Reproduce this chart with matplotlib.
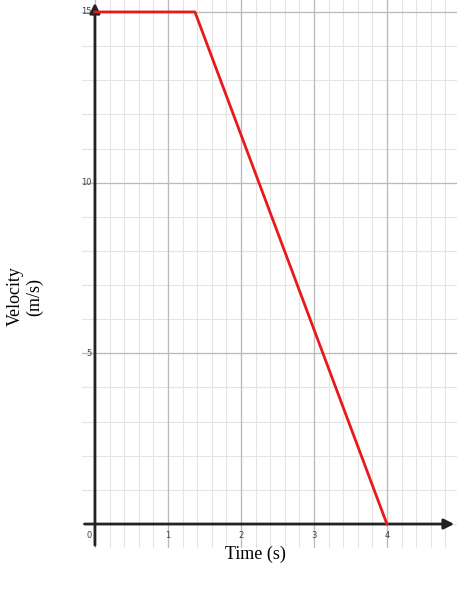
import numpy as np
import matplotlib.pyplot as plt

times = [0, 1.37, 4]
velocities = [15, 15, 0]
x_ticks = [0, 1, 2, 3, 4]
y_ticks = [5, 10, 15]

fig = plt.figure(figsize=(4.57, 5.93), dpi=100)
ax = fig.add_axes([0.179, 0.076, 0.821, 0.924])
ax.set_xlim(-0.18, 4.96)
ax.set_ylim(-0.7, 15.35)

for x in np.arange(0, 5.0, 0.2):
    ax.axvline(x, color="#e4e4e4", lw=0.8, zorder=0)
for y in range(0, 16):
    ax.axhline(y, color="#e4e4e4", lw=0.8, zorder=0)
for x in x_ticks:
    ax.axvline(x, color="#bbbbbb", lw=0.9, zorder=0)
for y in y_ticks:
    ax.axhline(y, color="#bbbbbb", lw=0.9, zorder=0)

# axes with arrows
ax.annotate("", xy=(4.96, 0), xytext=(-0.18, 0),
            arrowprops=dict(arrowstyle="-|>", color="#222222", lw=2, mutation_scale=15))
ax.annotate("", xy=(0, 15.35), xytext=(0, -0.7),
            arrowprops=dict(arrowstyle="-|>", color="#222222", lw=2, mutation_scale=15))

ax.plot(times, velocities, color="#e8191c", lw=2, zorder=3)

for x in x_ticks:
    ax.text(x - 0.08 if x == 0 else x, -0.2, str(x), ha="center", va="top",
            fontsize=6, color="#444444")
for y in y_ticks:
    ax.text(-0.05, y, str(y), ha="right", va="center", fontsize=6, color="#444444")

ax.set_xticks([])
ax.set_yticks([])
for s in ax.spines.values():
    s.set_visible(False)

fig.text(0.56, 0.066, "Time (s)", ha="center", va="center",
         fontsize=13, family="Liberation Serif")
fig.text(0.055, 0.5, "Velocity\n(m/s)", ha="center", va="center", rotation=90,
         fontsize=13, family="Liberation Serif", linespacing=1.2)

fig.savefig("out.png", dpi=100)
